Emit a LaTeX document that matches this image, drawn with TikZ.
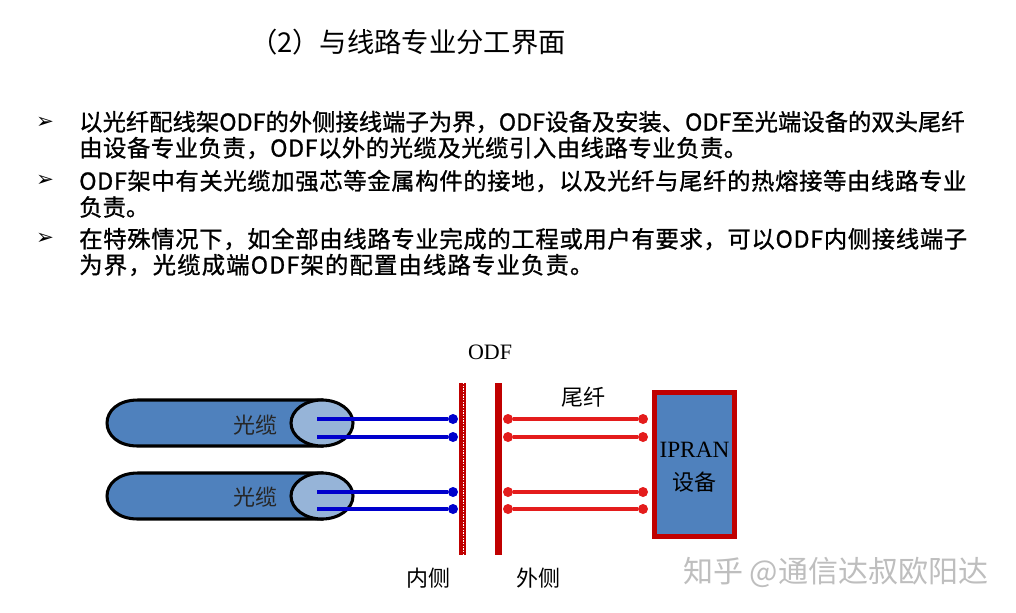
\documentclass[tikz,border=0pt]{standalone}
\usepackage{fontspec}
\setmainfont{Liberation Serif}
\newfontfamily\cjk{Noto Sans CJK SC}
\newfontfamily\cjkb[FakeBold=1]{Noto Sans CJK SC}
\newfontfamily\dejavu{DejaVu Sans}
\definecolor{fiberblue}{RGB}{0,0,204}
\definecolor{fiberred}{RGB}{228,28,28}
\definecolor{odfred}{RGB}{192,0,0}
\definecolor{cablefill}{RGB}{79,129,189}
\definecolor{cableend}{RGB}{150,180,216}
\definecolor{wmgray}{RGB}{190,190,190}
\newcommand{\bodyfont}[1]{\cjkb\addfontfeatures{LetterSpace=#1}\fontsize{17.5}{20}\selectfont}
\tikzset{
  bodyline/.style={anchor=west, inner sep=0pt},
  bulletmark/.style={inner sep=0pt, font=\dejavu\fontsize{16}{18}\selectfont},
  lbl/.style={inner sep=0pt, font=\cjk\fontsize{16.5}{18}\selectfont},
  cableshape/.style={draw=black, line width=2.3pt, fill=cablefill},
  cableendshape/.style={draw=black, line width=2.3pt, fill=cableend},
  bfiber/.style={draw=fiberblue, line width=2.6pt},
  rfiber/.style={draw=fiberred, line width=2.6pt},
  bdot/.style={circle, fill=fiberblue, inner sep=0pt, minimum size=7.5pt},
  rdot/.style={circle, fill=fiberred, inner sep=0pt, minimum size=7.5pt},
  odfbar/.style={draw=odfred, line width=5.4pt},
}
\begin{document}
\begin{tikzpicture}[x=0.75pt,y=-0.75pt]
\useasboundingbox (0,0) rectangle (1016,612);
\fill[white] (0,0) rectangle (1016,612);

% title
\node[inner sep=0pt, font=\cjk\fontsize{20.5}{24}\selectfont] (title) at (408,42) {（2）与线路专业分工界面};

% bullets and body text
\node[bulletmark] (bu1) at (45,122.5) {➢};
\node[bulletmark] (bu2) at (45,180.5) {➢};
\node[bulletmark] (bu3) at (45,238.5) {➢};
\node[bodyline, font=\bodyfont{0}] (l1) at (79,122) {以光纤配线架ODF的外侧接线端子为界，ODF设备及安装、ODF至光端设备的双头尾纤};
\node[bodyline, font=\bodyfont{2.3}] (l2) at (79,148) {由设备专业负责，ODF以外的光缆及光缆引入由线路专业负责。};
\node[bodyline, font=\bodyfont{2.8}] (l3) at (79,181) {ODF架中有关光缆加强芯等金属构件的接地，以及光纤与尾纤的热熔接等由线路专业};
\node[bodyline, font=\bodyfont{0}] (l4) at (79,207) {负责。};
\node[bodyline, font=\bodyfont{2.9}] (l5) at (79,239) {在特殊情况下，如全部由线路专业完成的工程或用户有要求，可以ODF内侧接线端子};
\node[bodyline, font=\bodyfont{5}] (l6) at (79,265) {为界，光缆成端ODF架的配置由线路专业负责。};

% cables
\foreach \cy in {423, 496}{
  \path[cableshape] (322,\cy-23) -- (138,\cy-23)
     .. controls (96.7,\cy-23) and (96.7,\cy+23) .. (138,\cy+23)
     -- (322,\cy+23) -- cycle;
  \path[cableendshape] (322,\cy) ellipse [x radius=31, y radius=23];
}
\node[lbl, text=black!85] (cab1) at (255,425) {光缆};
\node[lbl, text=black!85] (cab2) at (255,497) {光缆};

% fiber start points inside cable ends
\coordinate (f1) at (317,419);
\coordinate (f2) at (317,437);
\coordinate (f3) at (317,492);
\coordinate (f4) at (317,509);

% ODF bars
\coordinate (odfLtop) at (462.5,383);
\coordinate (odfLbot) at (462.5,555);
\coordinate (odfRtop) at (498.5,383);
\coordinate (odfRbot) at (498.5,555);
\draw[odfbar] (odfLtop) -- (odfLbot);
\draw[white, line width=0.5pt, dash pattern=on 1pt off 1pt] ([xshift=0.6pt]odfLtop) -- ([xshift=0.6pt]odfLbot);
\draw[odfbar] (odfRtop) -- (odfRbot);
\node[inner sep=0pt, font=\fontsize{16.5}{18}\selectfont] (odf) at (490,352) {ODF};
\node[lbl] (inner) at (428,578) {内侧};
\node[lbl] (outer) at (538,578) {外侧};

% inner-side dots
\node[bdot] (b1) at (453,419) {};
\node[bdot] (b2) at (453,437) {};
\node[bdot] (b3) at (453,492) {};
\node[bdot] (b4) at (453,509) {};
\draw[bfiber] (f1) -- (b1);
\draw[bfiber] (f2) -- (b2);
\draw[bfiber] (f3) -- (b3);
\draw[bfiber] (f4) -- (b4);

% outer-side dots
\node[rdot] (r1) at (508,419) {};
\node[rdot] (r2) at (508,437) {};
\node[rdot] (r3) at (508,492) {};
\node[rdot] (r4) at (508,509) {};
\node[rdot] (e1) at (643,419) {};
\node[rdot] (e2) at (643,437) {};
\node[rdot] (e3) at (643,492) {};
\node[rdot] (e4) at (643,509) {};
\draw[rfiber] (r1) -- (e1);
\draw[rfiber] (r2) -- (e2);
\draw[rfiber] (r3) -- (e3);
\draw[rfiber] (r4) -- (e4);
\node[lbl] (pig) at (583,397) {尾纤};

% IPRAN device
\node[draw=odfred, line width=3.8pt, fill=cablefill, minimum width=60.5pt, minimum height=108pt, inner sep=0pt] (ipran) at (694.5,464.5) {};
\node[inner sep=0pt, font=\fontsize{17.5}{19}\selectfont] (iptxt) at (694.5,450) {IPRAN};
\node[lbl] (dev) at (694.5,482) {设备};

% watermark
\node[inner sep=0pt, text=wmgray, font=\cjk\fontsize{22.5}{25}\selectfont, anchor=west] (wm) at (683,572) {知乎 @通信达叔欧阳达};
\end{tikzpicture}
\end{document}
